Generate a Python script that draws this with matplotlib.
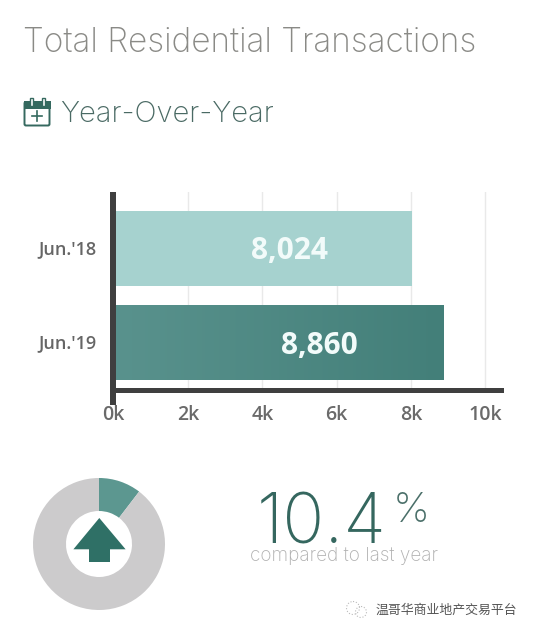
import numpy as np
import matplotlib
matplotlib.use("Agg")
import matplotlib.pyplot as plt
from matplotlib.patches import Polygon, FancyBboxPatch, Circle, Rectangle
from matplotlib.colors import LinearSegmentedColormap
from matplotlib.transforms import ScaledTranslation

categories = ["Jun.'18", "Jun.'19"]
values = [8024, 8860]
value_labels = ["8,024", "8,860"]
xticks = [0, 2000, 4000, 6000, 8000, 10000]
xtick_labels = ["0k", "2k", "4k", "6k", "8k", "10k"]
change_pct = 10.4

W, H = 535, 633
fig = plt.figure(figsize=(W / 100, H / 100), dpi=100, facecolor="white")

def rect(x0, y0, x1, y1):
    return [x0 / W, 1 - y1 / H, (x1 - x0) / W, (y1 - y0) / H]

XMAX = 10500
YLIM = (1.5, -0.597)

# Bar chart
ax = fig.add_axes(rect(113.5, 192, 504, 390))
for s in ax.spines.values():
    s.set_visible(False)
ax.set_xticks(xticks)
ax.set_xticklabels(xtick_labels, family="Open Sans", fontsize=14, fontweight="semibold", color="#6a6a6a")
ax.set_yticks(range(len(categories)))
ax.set_yticklabels(categories, family="Open Sans", fontsize=13, fontweight="semibold", color="#666666")
ax.tick_params(axis="x", length=0, pad=10.5)
ax.tick_params(axis="y", length=0, pad=12)
ax.grid(axis="x", color="#e9e9e9", lw=1)
ax.set_axisbelow(True)

bars = ax.barh(range(2), values, height=0.795, color=["#a6d2cf", "#4a8580"], zorder=2)
dark = LinearSegmentedColormap.from_list("d", ["#59928d", "#437f79"])
im = ax.imshow(np.linspace(0, 1, 128)[None, :], cmap=dark, aspect="auto", zorder=2.1,
               extent=(0, values[1], 1.4, 0.6))
im.set_clip_path(bars[1])
ax.set_xlim(0, XMAX)
ax.set_ylim(*YLIM)

ov = fig.add_axes([0, 0, 1, 1], facecolor="none")
ov.set_xlim(0, W)
ov.set_ylim(H, 0)
ov.axis("off")
axis_c = "#3f3f3f"
ov.add_patch(Rectangle((109.5, 192), 6, 213, color=axis_c, lw=0))
ov.add_patch(Rectangle((115.5, 387.5), 388.5, 5.5, color=axis_c, lw=0))

for lab, cx, cy in zip(value_labels, (289, 319), (251, 346)):
    ov.text(cx, cy, lab, ha="center", va="center", family="Open Sans", fontsize=21.5,
            fontweight="bold", color="#f2fbfa", zorder=5)

ov.text(23, 51.5, "Total Residential Transactions", family="Inter", fontsize=24, color="#8a8a86",
        va="baseline", ha="left", fontweight="light")
ov.text(60, 122.5, "Year-Over-Year", family="Inter", fontsize=21, color="#4a6a64", va="baseline", ha="left",
        fontweight="light")

# Calendar icon
cal = "#35695f"
ov.add_patch(FancyBboxPatch((24.5, 102), 25, 23.5, boxstyle="round,pad=0,rounding_size=1.5",
                            fc="white", ec=cal, lw=1.4))
ov.add_patch(Rectangle((24, 101), 26.5, 7.5, color=cal, lw=0))
for x in (31, 43):
    ov.add_patch(Rectangle((x - 1.5, 98), 3, 7.5, fc="white", ec=cal, lw=1))
ov.plot([32, 42], [116, 116], color=cal, lw=1.2)
ov.plot([37, 37], [111, 121], color=cal, lw=1.2)

# Donut
R = 66
da = fig.add_axes(rect(99 - R, 544 - R, 99 + R, 544 + R))
da.pie([change_pct, 100 - change_pct], colors=["#5c9790", "#cccbcc"], startangle=90, counterclock=False,
       radius=1.0, wedgeprops=dict(width=33 / R, linewidth=0))
da.set_xlim(-1, 1)
da.set_ylim(-1, 1)

ov2 = fig.add_axes([0, 0, 1, 1], facecolor="none")
ov2.set_xlim(0, W)
ov2.set_ylim(H, 0)
ov2.axis("off")
ov2.add_patch(Polygon([(99.3, 518), (125.6, 549.3), (110, 549.3), (110, 562), (89, 562), (89, 549.3), (73.4, 549.3)],
                      closed=True, fc="#2f7066", ec="none"))

ov2.text(257, 544, f"{change_pct:.1f}", family="Inter", fontsize=50, color="#35675f", va="baseline", ha="left",
         fontweight="light")
ov2.text(393, 522, "%", family="Inter", fontsize=30, color="#4a6f69", va="baseline", ha="left", fontweight="light")
ov2.text(250, 561, "compared to last year", family="Inter", fontsize=13.7, color="#b0b0b0",
         va="baseline", ha="left", fontweight="light")

# Watermark
ov2.text(376, 610.5, "温哥华商业地产交易平台", family="Noto Sans CJK SC", fontsize=9.3, color="#555555",
         va="center", ha="left")
ov2.add_patch(Circle((353, 608), 6.5, fc="none", ec="#bbbbbb", lw=0.8, ls=":"))
ov2.add_patch(Circle((361, 612), 5.5, fc="none", ec="#bbbbbb", lw=0.8, ls=":"))

# Raise the category labels slightly above the bar centres, as in the reference
for lab in ax.get_yticklabels():
    lab.set_transform(lab.get_transform() + ScaledTranslation(0, 1.2 / 72, fig.dpi_scale_trans))

fig.savefig("out.png", dpi=100, facecolor="white")
